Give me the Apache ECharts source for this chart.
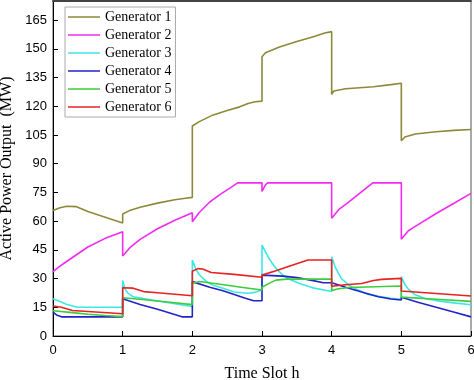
<!DOCTYPE html>
<html>
<head>
<meta charset="utf-8">
<script src="https://cdn.jsdelivr.net/npm/echarts@6/dist/echarts.min.js"></script>
<style>html,body{margin:0;padding:0;background:#fff}#c{width:474px;height:380px}</style>
</head>
<body>
<div id="c"></div>
<script>
var seriesNames = ['Generator 1','Generator 2','Generator 3','Generator 4','Generator 5','Generator 6'];
var xTicks = [0,1,2,3,4,5,6];
var yTicks = [0,15,30,45,60,75,90,105,120,135,150,165];

var gen1 = [[0,65.5],[0.1,67],[0.2,67.8],[0.33,67.6],[0.5,65],[0.75,62],[1,59],
  [1,63.7],[1.1,65.5],[1.25,67.3],[1.5,69.4],[1.75,71.2],[1.9,72],[2,72.4],
  [2,109.7],[2.1,112],[2.3,115.5],[2.5,117.8],[2.68,119.7],[2.8,121.5],[2.9,122.4],[3,122.7],
  [3,145.9],[3.05,148],[3.25,151],[3.5,153.8],[3.75,156.5],[3.9,158.3],[4,159],
  [4,126.2],[4.03,128],[4.2,129.2],[4.6,130.2],[4.85,131.3],[5,132],
  [5,102],[5.05,104],[5.2,105.5],[5.5,106.7],[5.75,107.4],[6,107.9]];
var gen2 = [[0,33.6],[0.1,36.5],[0.19,38.8],[0.5,46.5],[0.75,51],[1,54.5],
  [1,41.8],[1.1,46],[1.25,50.5],[1.5,56],[1.75,60.5],[2,64.4],
  [2,59.7],[2.1,64.5],[2.25,70],[2.4,74],[2.55,77.5],[2.65,80],[3,80],
  [3,75.5],[3.05,79],[3.08,80],[4,80],
  [4,61.5],[4.1,66],[4.23,69.5],[4.4,74.5],[4.59,80],[5,80],
  [5,50.5],[5.1,55],[5.2,57.3],[5.5,64],[5.75,69.2],[6,74.5]];
var gen3 = [[0,19.5],[0.1,18],[0.2,16.5],[0.35,15],[1,15],
  [1,29],[1.03,25],[1.07,22.5],[1.15,20.5],[1.5,18.3],[2,15.4],
  [2,39.7],[2.05,35],[2.1,32],[2.2,28.5],[2.3,26.5],[2.45,24.8],[2.6,23],[2.8,22.3],[2.9,22.8],[3,24],
  [3,47.5],[3.05,44],[3.1,40.5],[3.2,35.3],[3.3,31.8],[3.4,29.5],[3.55,27.3],[3.75,25],[4,23.2],
  [4,41.4],[4.05,36],[4.14,30],[4.25,26.5],[4.35,24.5],[4.5,22],[4.67,20.7],[4.85,19.7],[5,19.2],
  [5,31],[5.05,27],[5.1,24.5],[5.2,21.5],[5.35,19.5],[5.5,18.5],[5.75,17.3],[6,16.3]];
var gen4 = [[0,12.5],[0.05,11],[0.12,10],[1,10],
  [1,19.5],[1.25,16.5],[1.5,14],[1.7,11.8],[1.85,10],[2,10],
  [2,28.4],[2.25,25.5],[2.44,23.6],[2.75,19.8],[2.88,18.4],[3,18.4],
  [3,31.8],[3.3,31.3],[3.5,30.5],[3.7,29.2],[3.88,27.8],[4,27.8],
  [4,28.4],[4.2,25.5],[4.43,23],[4.67,20.5],[4.85,19.3],[5,18.8],
  [5,20.2],[5.25,17.5],[5.5,15],[5.75,12.5],[6,10]];
var gen5 = [[0,13.2],[0.28,12.2],[0.5,11.4],[0.75,10.7],[1,10.1],
  [1,20],[1.25,19.2],[1.5,18.3],[1.75,17.4],[2,16.4],
  [2,27.5],[2.1,28.5],[2.4,27],[2.7,25.5],[3,24],
  [3,25.5],[3.1,27.5],[3.2,29.2],[3.35,29.7],[4,29.7],
  [4,23.8],[4.1,24.7],[4.25,25.3],[4.5,25.6],[5,26.1],
  [5,20.3],[5.5,19.2],[6,18.1]];
var gen6 = [[0,15.7],[0.12,15],[0.28,13.3],[0.5,12.8],[1,11.6],
  [1,25.2],[1.15,25],[1.3,23.2],[1.5,22.6],[2,21],
  [2,33.8],[2.08,35.2],[2.15,35],[2.27,33.2],[2.6,32.2],[3,30.7],
  [3,31.8],[3.2,34.1],[3.4,36.6],[3.66,39.7],[4,39.7],
  [4,26],[4.2,26.8],[4.43,27.4],[4.6,29],[4.72,29.6],[5,30.1],
  [5,23.5],[6,20.9]];

var allData = [gen1, gen2, gen3, gen4, gen5, gen6];
var colors = ['#8c8a3a','#f02cf0','#3ee6e6','#2323c8','#3ccc3c','#e62222'];

var chart = echarts.init(document.getElementById('c'), null, {renderer:'canvas'});
var series = allData.map(function(d, i){
  return {
    name: seriesNames[i], type: 'line', data: d, symbol: 'none',
    lineStyle: {width: 1.6, color: colors[i]}, itemStyle: {color: colors[i]},
    animation: false
  };
});
chart.setOption({
  animation: false,
  backgroundColor: '#fff',
  grid: {left: 53, right: 3, top: 1, bottom: 44, show: true, borderColor: '#555', borderWidth: 1,
         containLabel: false, outerBoundsMode: 'none'},
  legend: {
    orient: 'vertical', left: 65, top: 7, padding: [3,4,3,3],
    icon: 'rect', itemWidth: 32, itemHeight: 1.5, itemGap: 4,
    backgroundColor: '#fff', borderColor: '#aaa', borderWidth: 1,
    textStyle: {fontFamily: 'Liberation Serif', fontSize: 14, color: '#000', lineHeight: 14},
    data: seriesNames
  },
  xAxis: [{
    type: 'value', min: xTicks[0], max: xTicks[xTicks.length-1], interval: 1,
    name: 'Time Slot h', nameLocation: 'middle', nameGap: 30,
    nameTextStyle: {fontFamily: 'Liberation Serif', fontSize: 16, color: '#000'},
    axisLine: {show: true, lineStyle: {color: '#000', width: 1}},
    axisTick: {inside: true, length: 5, lineStyle: {color: '#000'}},
    axisLabel: {fontFamily: 'Liberation Sans', fontSize: 13, color: '#000', margin: 8},
    splitLine: {show: false}
  },{
    type: 'value', position: 'top', min: 0, max: 6,
    axisLine: {show: true, lineStyle: {color: '#444', width: 2}},
    axisTick: {show: false}, axisLabel: {show: false}, splitLine: {show: false}
  }],
  yAxis: {
    type: 'value', min: yTicks[0], max: 175, interval: 15,
    name: 'Active Power Output  (MW)', nameLocation: 'middle', nameGap: 37,
    nameTextStyle: {fontFamily: 'Liberation Serif', fontSize: 16, color: '#000'},
    axisLine: {show: true, lineStyle: {color: '#000', width: 1}},
    axisTick: {inside: true, length: 5, lineStyle: {color: '#000'}},
    axisLabel: {fontFamily: 'Liberation Sans', fontSize: 13, color: '#000', margin: 6, showMaxLabel: false},
    splitLine: {show: false}
  },
  series: series
});
</script>
</body>
</html>
